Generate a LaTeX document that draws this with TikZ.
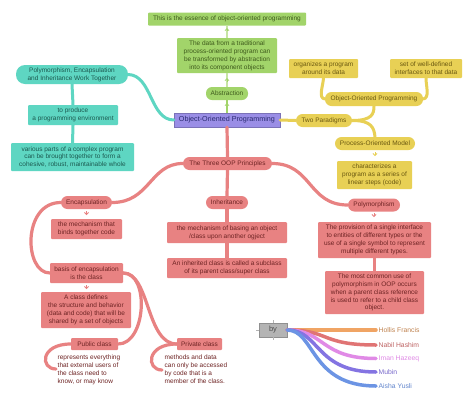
\documentclass[tikz,border=0pt]{standalone}
\usepackage{fontspec}
\setmainfont{Liberation Sans}
\usetikzlibrary{arrows.meta}
\definecolor{gfill}{HTML}{A2D46A}
\definecolor{gtext}{HTML}{3E5A1C}
\definecolor{pfill}{HTML}{9A8EE6}
\definecolor{ptext}{HTML}{2A2A70}
\definecolor{tfill}{HTML}{5ED6C2}
\definecolor{ttext}{HTML}{1C5A50}
\definecolor{yfill}{HTML}{E8D055}
\definecolor{ytext}{HTML}{6A5810}
\definecolor{rfill}{HTML}{E88282}
\definecolor{rtext}{HTML}{6E2424}
\definecolor{byfill}{HTML}{B4B4B4}
\definecolor{cHollis}{HTML}{F0A464}
\definecolor{cNabil}{HTML}{E07474}
\definecolor{cIman}{HTML}{E08AE6}
\definecolor{cMubin}{HTML}{8474E2}
\definecolor{cAisha}{HTML}{6C94E4}
\tikzset{
  mybase/.style={inner sep=0.5pt, align=center, font=\fontsize{6.5}{7.9}\selectfont},
  boxg/.style={mybase, fill=gfill, text=gtext, rounded corners=1pt},
  pillg/.style={mybase, fill=gfill, text=gtext, rounded corners=6pt},
  boxp/.style={mybase, fill=pfill, draw=pfill!80!black, line width=0.4pt, text=ptext, font=\fontsize{7.2}{8.5}\selectfont},
  boxt/.style={mybase, fill=tfill, text=ttext, rounded corners=1pt},
  pillt/.style={mybase, fill=tfill, text=ttext, rounded corners=9pt},
  boxy/.style={mybase, fill=yfill, text=ytext, rounded corners=1pt},
  pilly/.style={mybase, fill=yfill, text=ytext, rounded corners=6.5pt},
  boxr/.style={mybase, fill=rfill, text=rtext, rounded corners=1pt},
  pillr/.style={mybase, fill=rfill, text=rtext, rounded corners=6.5pt},
  plainr/.style={mybase, text=rtext, align=left, anchor=north west},
  namelbl/.style={mybase, anchor=west, font=\fontsize{6.8}{8}\selectfont},
  tline/.style={draw=tfill, line width=3pt, line cap=round},
  yline/.style={draw=yfill, line width=3pt, line cap=round},
  rline/.style={draw=rfill, line width=3.2pt, line cap=round},
  gline/.style={draw=gfill, line width=2.5pt},
  arrtip/.style={-{Straight Barb[length=2pt,width=4pt,line width=0.8pt]}, line width=0.8pt},
  nline/.style={line width=3.5pt, line cap=round},
}
\begin{document}
\begin{tikzpicture}[x=1pt,y=-1pt]
\useasboundingbox (0,0) rectangle (474,405);
\fill[white] (0,0) rectangle (474,405);

% ---- green
\node[boxg, minimum width=158, minimum height=13] (ess) at (227,19) {This is the essence of object-oriented programming};
\node[boxg, minimum width=100, minimum height=35] (data) at (227,55.5) {The data from a traditional\\process-oriented program can\\be transformed by abstraction\\into its component objects};
\node[pillg, minimum width=42, minimum height=13] (abs) at (227,93.5) {Abstraction};
\node[boxp, minimum width=106, minimum height=14] (oop) at (227,120) {Object-Oriented Programming};

% ---- teal
\node[pillt, minimum width=112, minimum height=19] (pe) at (72,74.5) {Polymorphism, Encapsulation\\and Inheritance Work Together};
\node[boxt, minimum width=90, minimum height=20] (prod) at (73,115) {to produce\\a programming environment};
\node[boxt, minimum width=123, minimum height=28] (var) at (72.5,157) {various parts of a complex program\\can be brought together to form a\\cohesive, robust, maintainable whole};

% ---- yellow
\node[boxy, minimum width=69, minimum height=19] (org) at (323.5,68.5) {organizes a program\\around its data};
\node[boxy, minimum width=72, minimum height=19] (set) at (426,68.5) {set of well-defined\\interfaces to that data};
\node[pilly, minimum width=98, minimum height=14] (yoop) at (374,99) {Object-Oriented Programming};
\node[pilly, minimum width=56, minimum height=13] (two) at (324,120.5) {Two Paradigms};
\node[pilly, minimum width=80, minimum height=13] (pom) at (375,143.5) {Process-Oriented Model};
\node[boxy, minimum width=75, minimum height=28] (char) at (374.5,175) {characterizes a\\program as a series of\\linear steps (code)};

% ---- red
\node[pillr, minimum width=89, minimum height=13] (three) at (227.5,163.5) {The Three OOP Principles};
\node[pillr, minimum width=51, minimum height=13] (enc) at (86.5,202.5) {Encapsulation};
\node[boxr, minimum width=71, minimum height=20] (mech) at (86.5,229) {the mechanism that\\binds together code};
\node[boxr, minimum width=73, minimum height=20] (basis) at (86.5,273) {basis of encapsulation\\is the class};
\node[boxr, minimum width=90, minimum height=36] (cdef) at (86,310) {A class defines\\the structure and behavior\\(data and code) that will be\\shared by a set of objects};
\node[boxr, minimum width=47, minimum height=12] (pub) at (94.5,344) {Public class};
\node[plainr] (pubt) at (57,354) {represents everything\\that external users of\\the class need to\\know, or may know};
\node[boxr, minimum width=45, minimum height=12] (priv) at (199.5,344) {Private class};
\node[plainr] (privt) at (164,354.5) {methods and data\\can only be accessed\\by code that is a\\member of the class.};
\node[pillr, minimum width=42, minimum height=13] (inh) at (227,202.5) {Inheritance};
\node[boxr, minimum width=120, minimum height=21] (imech) at (227,232.5) {the mechanism of basing an object\\/class upon another ogject};
\node[boxr, minimum width=120, minimum height=20] (isub) at (227,268) {An inherited class is called a subclass\\of its parent class/super class};
\node[pillr, minimum width=52, minimum height=13] (poly) at (374,205) {Polymorphism};
\node[boxr, minimum width=113, minimum height=36] (prov) at (374.5,240) {The provision of a single interface\\to entities of different types or the\\use of a single symbol to represent\\multiple different types.};
\node[boxr, minimum width=99, minimum height=43] (most) at (374.5,292.5) {The most common use of\\polymorphism in OOP occurs\\when a parent class reference\\is used to refer to a child class\\object.};

% ---- by
\node[mybase, fill=byfill, draw=byfill!80!black, line width=0.3pt, text=black!70, minimum width=28, minimum height=14, font=\fontsize{7.5}{8}\selectfont] (by) at (273,330) {by};
\node[namelbl, text=cHollis!80!black] (n1) at (378,330) {Hollis Francis};
\node[namelbl, text=cNabil!85!black] (n2) at (378,345) {Nabil Hashim};
\node[namelbl, text=cIman] (n3) at (378,358.5) {Iman Hazeeq};
\node[namelbl, text=cMubin!90!black] (n4) at (378,372) {Mubin};
\node[namelbl, text=cAisha!90!black] (n5) at (378,386) {Aisha Yusli};
\draw[byfill, line width=0.8pt] (by.north) -- ++(0,-3);
\draw[byfill, line width=0.8pt] (by.south) -- ++(0,3);
\draw[byfill, line width=0.8pt] (by.west) -- ++(-3,0);

% ---- connectors
% green
\draw[gline] (oop.north) -- (abs.south);
\draw[gfill, arrtip] (227,106) -- (227,103);
\draw[gline, gfill!60] (abs.north) -- (data.south);
\draw[gfill, arrtip] (227,82) -- (227,78);
\draw[gline, gfill!60] (data.north) -- (ess.south);
\draw[gfill, arrtip] (227,31) -- (227,28);
% teal
\draw[tline] (pe.east) .. controls (152,75) and (150,120) .. (oop.west);
\draw[tline] (pe.south) -- (prod.north);
\draw[tline] (prod.south) -- (var.north);
% yellow
\draw[yline] (oop.east) -- (two.west);
\draw[yline] (two.east) .. controls (372,120.5) and (374,114) .. (yoop.south);
\draw[yline] (two.east) .. controls (372,120.5) and (374,128) .. (pom.north);
\draw[yline] (yoop.west) .. controls (318,98) and (323,86) .. (org.south);
\draw[yline] (yoop.east) .. controls (430,98) and (426,86) .. (set.south);
\draw[yfill, arrtip] (375,152) -- (375,156);
% red
\draw[rline] (oop.south) -- (three.north);
\draw[rline] (three.south) -- (inh.north);
\draw[rline] (three.west) .. controls (150,163.5) and (150,202.5) .. (enc.east);
\draw[rline] (three.east) .. controls (312,163.5) and (308,205) .. (poly.west);
\draw[rfill, arrtip] (86.5,211) -- (86.5,215);
\draw[rline] (enc.west) .. controls (22,202.5) and (24,273) .. (basis.west);
\draw[rfill, arrtip] (86.5,285) -- (86.5,289);
\draw[rline] (basis.east) .. controls (150,273) and (146,344) .. (pub.east);
\draw[rline] (basis.east) .. controls (150,273) and (146,344) .. (priv.west);
\draw[rline] (pub.west) .. controls (40,344) and (40,369) .. (56,369);
\draw[rline] (priv.west) .. controls (146,344) and (146,370) .. (162,370);
\draw[rline] (inh.south) -- (imech.north);
\draw[rline] (imech.south) -- (isub.north);
\draw[rfill, arrtip] (374,213) -- (374,217);
\draw[rline] (prov.south) -- (most.north);
% by
\draw[nline, cHollis] (by.east) .. controls (330,330) and (330,330) .. (376,330);
\draw[nline, cNabil] (by.east) .. controls (330,330) and (320,345) .. (376,345);
\draw[nline, cIman] (by.east) .. controls (325,330) and (320,358.5) .. (376,358.5);
\draw[nline, cMubin] (by.east) .. controls (320,330) and (315,372) .. (376,372);
\draw[nline, cAisha] (by.east) .. controls (315,330) and (310,386) .. (376,386);
\end{tikzpicture}
\end{document}
